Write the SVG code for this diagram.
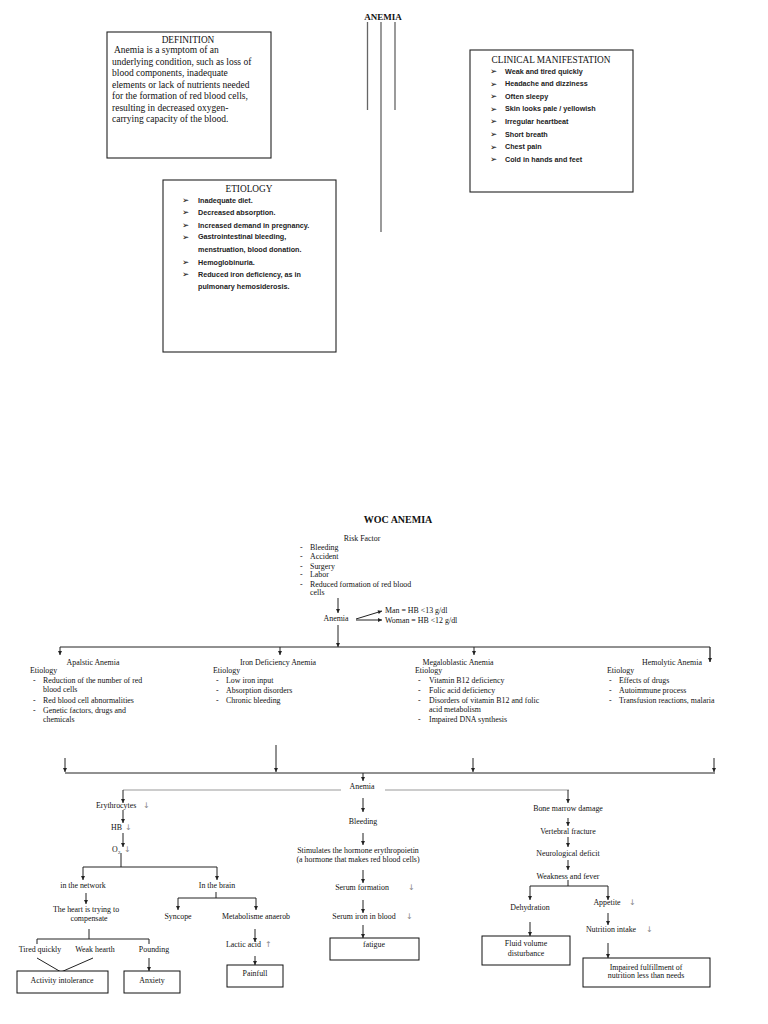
<svg xmlns="http://www.w3.org/2000/svg" width="768" height="1024" viewBox="0 0 768 1024">
<style>
.bg{fill:#fff}
.box{fill:#fff;stroke:#111;stroke-width:1}
.tbox{fill:#fff;stroke:#222;stroke-width:1.1}
.t{font-family:"Liberation Serif",serif;font-size:7.9px;fill:#111}
.c{text-anchor:middle}
.d{font-family:"Liberation Serif",serif;font-size:9.5px;fill:#111}
.h{font-family:"Liberation Serif",serif;font-size:9.3px;fill:#111;text-anchor:middle}
.b{font-family:"Liberation Serif",serif;font-weight:bold;fill:#111;text-anchor:middle}
.s{font-family:"Liberation Sans",sans-serif;font-size:7.2px;font-weight:bold;fill:#222}
.bu{font-family:"DejaVu Sans",sans-serif;font-size:8.5px;fill:#111}
.ar{font-family:"DejaVu Sans",sans-serif;font-size:8px;fill:#888}
.ln{stroke:#222;stroke-width:1;fill:none}
.gl{stroke:#999;stroke-width:1.2;fill:none}
.vl{stroke:#666;stroke-width:1.3;fill:none}
.a{stroke:#222;stroke-width:1;fill:none;marker-end:url(#ah)}
</style>
<defs>
<marker id="ah" viewBox="0 0 6 6" refX="6" refY="3" markerWidth="5" markerHeight="4" orient="auto" markerUnits="userSpaceOnUse"><path d="M0,0 L6,3 L0,6 z" fill="#222"/></marker>
</defs>
<rect class="bg" x="0" y="0" width="768" height="1024"/>

<g id="connectors">
  <path class="vl" d="M367.5,22 V110 M381,22 V232 M395,22 V110"/>
  <path class="a" d="M338,598 V613"/>
  <path class="a" d="M356,619 L382,611"/>
  <path class="a" d="M356,620 L382,620"/>
  <path class="a" d="M338,625 V647"/>
  <path class="ln" d="M60,647 H710"/>
  <path class="a" d="M60,647 V655"/>
  <path class="a" d="M280,647 V655"/>
  <path class="a" d="M474,647 V655"/>
  <path class="a" d="M710,647 V662" style="stroke-width:1.3"/>
  <path class="a" d="M65,758 V772"/>
  <path class="a" d="M276,745 V772"/>
  <path class="a" d="M473,758 V772"/>
  <path class="a" d="M714,758 V772"/>
  <path class="ln" d="M65,773 H715"/>
  <path class="a" d="M363,773 V781"/>
  <path class="gl" d="M123,790 H341 M385,790 H569"/>
  <path class="a" d="M123,790 V803"/>
  <path class="a" d="M123,810 V823"/>
  <path class="a" d="M123,833 V847"/>
  <path class="ln" d="M121,853 V867 M83,867 H217"/>
  <path class="a" d="M83,867 V880"/>
  <path class="a" d="M217,867 V880"/>
  <path class="a" d="M86,893 V904"/>
  <path class="ln" d="M89,929 V939 M37,939 H149 M37,939 V944 M149,939 V944"/>
  <path class="ln" d="M37,958 L61,972 M93,958 L61,972"/>
  <path class="a" d="M149,958 V971"/>
  <path class="ln" d="M216,892 V898 M178,898 H256"/>
  <path class="a" d="M178,898 V910"/>
  <path class="a" d="M256,898 V910"/>
  <path class="a" d="M255,929 V942"/>
  <path class="a" d="M255,956 V965"/>
  <path class="a" d="M363,798 V812"/>
  <path class="a" d="M363,833 V845"/>
  <path class="a" d="M363,870 V883"/>
  <path class="a" d="M363,900 V913"/>
  <path class="a" d="M363,925 V938"/>
  <path class="a" d="M568,790 V803"/>
  <path class="a" d="M568,818 V826"/>
  <path class="a" d="M568,837 V847"/>
  <path class="a" d="M568,860 V870"/>
  <path class="ln" d="M568,880 V886 M530,886 H608"/>
  <path class="a" d="M530,886 V900"/>
  <path class="a" d="M608,886 V900"/>
  <path class="a" d="M608,913 V925"/>
  <path class="a" d="M530,922 V936"/>
  <path class="a" d="M608,943 V958"/>
</g>

<g id="title"><text class="b" x="383" y="20" font-size="9">ANEMIA</text></g>

<g id="definition">
  <rect class="tbox" x="107" y="32" width="164" height="126"/>
  <text class="h" x="188" y="43">DEFINITION</text>
  <text class="d" x="114" y="53">Anemia is a symptom of an</text>
  <text class="d" x="112" y="64.5">underlying condition, such as loss of</text>
  <text class="d" x="112" y="76">blood components, inadequate</text>
  <text class="d" x="112" y="87.5">elements or lack of nutrients needed</text>
  <text class="d" x="112" y="99">for the formation of red blood cells,</text>
  <text class="d" x="112" y="110.5">resulting in decreased oxygen-</text>
  <text class="d" x="112" y="122">carrying capacity of the blood.</text>
</g>

<g id="clinical">
  <rect class="tbox" x="470" y="50" width="163" height="142"/>
  <text class="h" x="551" y="63">CLINICAL MANIFESTATION</text>
  <g class="bu">
    <text x="490" y="74">➢</text><text x="490" y="86.6">➢</text><text x="490" y="99.2">➢</text><text x="490" y="111.8">➢</text>
    <text x="490" y="124.4">➢</text><text x="490" y="137">➢</text><text x="490" y="149.6">➢</text><text x="490" y="162.2">➢</text>
  </g>
  <text class="s" x="505" y="73.5">Weak and tired quickly</text>
  <text class="s" x="505" y="86.1">Headache and dizziness</text>
  <text class="s" x="505" y="98.7">Often sleepy</text>
  <text class="s" x="505" y="111.3">Skin looks pale / yellowish</text>
  <text class="s" x="505" y="123.9">Irregular heartbeat</text>
  <text class="s" x="505" y="136.5">Short breath</text>
  <text class="s" x="505" y="149.1">Chest pain</text>
  <text class="s" x="505" y="161.7">Cold in hands and feet</text>
</g>

<g id="etiology">
  <rect class="tbox" x="163" y="180" width="173" height="172"/>
  <text class="h" x="249" y="192" font-size="9.8">ETIOLOGY</text>
  <g class="bu">
    <text x="182" y="203">➢</text><text x="182" y="215.3">➢</text><text x="182" y="228">➢</text><text x="182" y="239.7">➢</text>
    <text x="182" y="265.3">➢</text><text x="182" y="277">➢</text>
  </g>
  <text class="s" x="198" y="202.5" font-size="7.5">Inadequate diet.</text>
  <text class="s" x="198" y="214.8" font-size="7.5">Decreased absorption.</text>
  <text class="s" x="198" y="227.5" font-size="7.5">Increased demand in pregnancy.</text>
  <text class="s" x="198" y="239.2" font-size="7.5">Gastrointestinal bleeding,</text>
  <text class="s" x="198" y="251.5" font-size="7.5">menstruation, blood donation.</text>
  <text class="s" x="198" y="264.8" font-size="7.5">Hemoglobinuria.</text>
  <text class="s" x="198" y="276.5" font-size="7.5">Reduced iron deficiency, as in</text>
  <text class="s" x="198" y="288.5" font-size="7.5">pulmonary hemosiderosis.</text>
</g>

<g id="woc-title"><text class="b" x="398" y="523" font-size="10">WOC ANEMIA</text></g>

<g id="risk-factor">
  <text class="t c" x="362" y="540.5">Risk Factor</text>
  <text class="t" x="300" y="550">-</text><text class="t" x="310" y="550">Bleeding</text>
  <text class="t" x="300" y="558.5">-</text><text class="t" x="310" y="558.5">Accident</text>
  <text class="t" x="300" y="568.5">-</text><text class="t" x="310" y="568.5">Surgery</text>
  <text class="t" x="300" y="577">-</text><text class="t" x="310" y="577">Labor</text>
  <text class="t" x="300" y="586.5">-</text><text class="t" x="310" y="586.5">Reduced formation of red blood</text>
  <text class="t" x="310" y="595">cells</text>
</g>

<g id="anemia-1">
  <text class="t c" x="336" y="621">Anemia</text>
  <text class="t" x="385" y="613">Man = HB &lt;13 g/dl</text>
  <text class="t" x="385" y="622.5">Woman = HB &lt;12 g/dl</text>
</g>

<g id="aplastic">
  <text class="t c" x="93" y="665">Apalstic Anemia</text>
  <text class="t" x="30" y="673">Etiology</text>
  <text class="t" x="33" y="683">-</text><text class="t" x="43" y="683">Reduction of the number of red</text>
  <text class="t" x="43" y="692">blood cells</text>
  <text class="t" x="33" y="702.5">-</text><text class="t" x="43" y="702.5">Red blood cell abnormalities</text>
  <text class="t" x="33" y="712.5">-</text><text class="t" x="43" y="712.5">Genetic factors, drugs and</text>
  <text class="t" x="43" y="721.5">chemicals</text>
</g>

<g id="iron-deficiency">
  <text class="t c" x="278" y="665">Iron Deficiency Anemia</text>
  <text class="t" x="213" y="673">Etiology</text>
  <text class="t" x="216" y="683">-</text><text class="t" x="226" y="683">Low iron input</text>
  <text class="t" x="216" y="692.5">-</text><text class="t" x="226" y="692.5">Absorption disorders</text>
  <text class="t" x="216" y="702.5">-</text><text class="t" x="226" y="702.5">Chronic bleeding</text>
</g>

<g id="megaloblastic">
  <text class="t c" x="458" y="665">Megaloblastic Anemia</text>
  <text class="t" x="415" y="673">Etiology</text>
  <text class="t" x="418" y="683">-</text><text class="t" x="429" y="683">Vitamin B12 deficiency</text>
  <text class="t" x="418" y="692.5">-</text><text class="t" x="429" y="692.5">Folic acid deficiency</text>
  <text class="t" x="418" y="702.5">-</text><text class="t" x="429" y="702.5">Disorders of vitamin B12 and folic</text>
  <text class="t" x="429" y="711.5">acid metabolism</text>
  <text class="t" x="418" y="721.5">-</text><text class="t" x="429" y="721.5">Impaired DNA synthesis</text>
</g>

<g id="hemolytic">
  <text class="t c" x="672" y="665">Hemolytic Anemia</text>
  <text class="t" x="607" y="673">Etiology</text>
  <text class="t" x="609" y="683">-</text><text class="t" x="619" y="683">Effects of drugs</text>
  <text class="t" x="609" y="692.5">-</text><text class="t" x="619" y="692.5">Autoimmune process</text>
  <text class="t" x="609" y="702.5">-</text><text class="t" x="619" y="702.5">Transfusion reactions, malaria</text>
</g>

<g id="anemia-2"><text class="t c" x="362" y="788.5">Anemia</text></g>

<g id="erythrocytes"><text class="t" x="96" y="808">Erythrocytes</text><text class="ar" x="143" y="808">↓</text></g>
<g id="hb"><text class="t" x="111" y="830">HB</text><text class="ar" x="125" y="830">↓</text></g>
<g id="o2"><text class="t" x="112" y="852">O₂</text><text class="ar" x="124" y="852">↓</text></g>
<g id="in-network"><text class="t c" x="83" y="887.5">in the network</text></g>
<g id="in-brain"><text class="t c" x="217" y="887.5">In the brain</text></g>
<g id="heart-compensate">
  <text class="t c" x="86" y="911.5">The heart is trying to</text>
  <text class="t c" x="89" y="920.5">compensate</text>
</g>
<g id="tired"><text class="t c" x="40" y="951.5">Tired quickly</text></g>
<g id="weak-hearth"><text class="t c" x="95" y="951.5">Weak hearth</text></g>
<g id="pounding"><text class="t c" x="154" y="951.5">Pounding</text></g>
<g id="activity-intolerance"><rect class="box" x="17" y="971" width="91" height="22"/><text class="t c" x="62" y="983">Activity intolerance</text></g>
<g id="anxiety"><rect class="box" x="124" y="971" width="56" height="22"/><text class="t c" x="152" y="983">Anxiety</text></g>
<g id="syncope"><text class="t c" x="178" y="918.5">Syncope</text></g>
<g id="metabolisme"><text class="t c" x="256" y="918.5">Metabolisme anaerob</text></g>
<g id="lactic"><text class="t" x="226" y="946.5">Lactic acid</text><text class="ar" x="265" y="946.5">↑</text></g>
<g id="painfull"><rect class="box" x="227" y="965" width="56" height="22"/><text class="t c" x="255" y="976">Painfull</text></g>

<g id="bleeding"><text class="t c" x="363" y="823.5">Bleeding</text></g>
<g id="stimulates">
  <text class="t c" x="358" y="852.5">Stimulates the hormone erythropoietin</text>
  <text class="t c" x="358" y="862">(a hormone that makes red blood cells)</text>
</g>
<g id="serum-formation"><text class="t c" x="362" y="889.5">Serum formation</text><text class="ar" x="408" y="889.5">↓</text></g>
<g id="serum-iron"><text class="t c" x="364" y="918.5">Serum iron in blood</text><text class="ar" x="406" y="918.5">↓</text></g>
<g id="fatigue"><rect class="box" x="330" y="938" width="89" height="22"/><text class="t c" x="374" y="947">fatigue</text></g>

<g id="bone-marrow"><text class="t c" x="568" y="810.5">Bone marrow damage</text></g>
<g id="vertebral"><text class="t c" x="568" y="833.5">Vertebral fracture</text></g>
<g id="neurological"><text class="t c" x="568" y="855.5">Neurological deficit</text></g>
<g id="weakness"><text class="t c" x="568" y="878.5">Weakness and fever</text></g>
<g id="dehydration"><text class="t c" x="530" y="909.5">Dehydration</text></g>
<g id="appetite"><text class="t c" x="607" y="904.5">Appetite</text><text class="ar" x="629" y="904.5">↓</text></g>
<g id="nutrition-intake"><text class="t c" x="611" y="931.5">Nutrition intake</text><text class="ar" x="646" y="931.5">↓</text></g>
<g id="fluid-volume"><rect class="box" x="482" y="936" width="88" height="29"/><text class="t c" x="526" y="946">Fluid volume</text><text class="t c" x="526" y="955.5">disturbance</text></g>
<g id="impaired-nutrition"><rect class="box" x="583" y="958" width="127" height="29"/><text class="t c" x="646" y="969.5">Impaired fulfillment of</text><text class="t c" x="646" y="978">nutrition less than needs</text></g>
</svg>
